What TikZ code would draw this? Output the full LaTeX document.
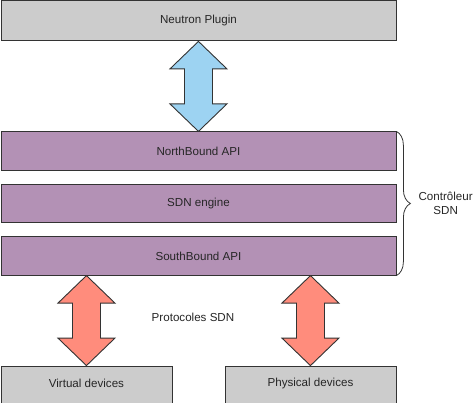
\documentclass[tikz,border=0pt]{standalone}
\usepackage{fontspec}
\setmainfont{Liberation Sans}
\usetikzlibrary{positioning,calc,decorations.pathreplacing}
\usepackage{xcolor}

\definecolor{boxgrey}{HTML}{CCCCCC}
\definecolor{ctrlpurple}{HTML}{B391B5}
\definecolor{linkblue}{HTML}{9DD3F2}
\definecolor{linksalmon}{HTML}{FF8C7C}
\definecolor{edgegrey}{HTML}{333333}

% double arrow between two points on the same vertical
\newcommand{\linkarrow}[3]{%
  \draw[bigarrow, fill=#3] let \p1=(#1), \p2=(#2) in
    (\p1) -- (\x1+28.5pt,\y1-27.5pt) -- (\x1+14pt,\y1-27.5pt)
    -- (\x1+14pt,\y2+27.5pt) -- (\x1+28.5pt,\y2+27.5pt) -- (\p2)
    -- (\x1-28.5pt,\y2+27.5pt) -- (\x1-14pt,\y2+27.5pt)
    -- (\x1-14pt,\y1-27.5pt) -- (\x1-28.5pt,\y1-27.5pt) -- cycle;}

\begin{document}
\begin{tikzpicture}%
    [font=\fontsize{11.6}{14}\selectfont,
    every node/.style={text=black!85},
    box/.style={draw=edgegrey, line width=0.9pt, minimum width=395pt, minimum height=40pt},
    ctrl/.style={box, fill=ctrlpurple, minimum height=38.5pt},
    devbox/.style={box, fill=boxgrey, minimum width=171pt, minimum height=44pt},
    bigarrow/.style={draw=edgegrey, line width=0.9pt, line join=miter}
    ]
    \useasboundingbox (0,0) rectangle (474pt,-403pt);

    \node[box, fill=boxgrey, anchor=north west] (plugin) at (0.5pt,-0.5pt) {Neutron Plugin};
    \node[ctrl] (north)  [below=90pt of plugin] {NorthBound API};
    \node[ctrl] (engine) [below=13pt of north]  {SDN engine};
    \node[ctrl] (south)  [below=13pt of engine] {SouthBound API};

    \node[devbox] (virtual)  [below=90pt of south.south west, anchor=north west] {};
    \node[devbox] (physical) [below=90pt of south.south east, anchor=north east] {};
    \node at ($(virtual.north)+(0,-18pt)$)  {Virtual devices};
    \node at ($(physical.north)+(0,-18pt)$) {Physical devices};

    \linkarrow{plugin.south}{north.north}{linkblue}
    \linkarrow{virtual.north |- south.south}{virtual.north}{linksalmon}
    \linkarrow{physical.north |- south.south}{physical.north}{linksalmon}

    \node (protocols) at (193pt,-317pt) {Protocoles SDN};

    \draw[draw=edgegrey, line width=0.8pt, decorate, decoration={brace, amplitude=14pt}]
      (north.north east) -- (south.south east) coordinate[midway] (bracemid);
    \node[align=center, right=22pt of bracemid, inner sep=0pt] (controller) {Contrôleur\\SDN};
\end{tikzpicture}
\end{document}
